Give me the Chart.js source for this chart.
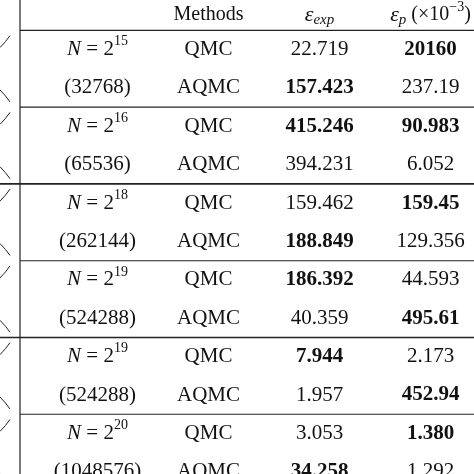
<!DOCTYPE html>
<html><head><meta charset="utf-8">
<script src="https://cdn.jsdelivr.net/npm/chart.js@4.4.0/dist/chart.umd.min.js"></script>
<style>
html,body{margin:0;width:474px;height:474px;overflow:hidden;background:#fff}
#wrap{position:absolute;left:0;top:-8px;width:486px;height:499px}
</style></head><body>
<div id="wrap"><canvas id="c"></canvas></div>
<script>
const columns = ['size', 'method', 'exp', 'p'];
const rows = ['head', 'r1', 'r2', 'r3', 'r4', 'r5', 'r6', 'r7', 'r8', 'r9', 'r10', 'r11', 'r12'];
const exponents = ['15', '16', '18', '19', '19', '20'];
const counts = ['(32768)', '(65536)', '(262144)', '(524288)', '(524288)', '(1048576)'];
const methods = ['QMC', 'AQMC'];
const epsExp = ['22.719', '157.423', '415.246', '394.231', '159.462', '188.849', '186.392', '40.359', '7.944', '1.957', '3.053', '34.258'];
const boldExp = [0, 1, 1, 0, 0, 1, 1, 0, 1, 0, 0, 1];
const epsP = ['20160', '237.19', '90.983', '6.052', '159.45', '129.356', '44.593', '495.61', '2.173', '452.94', '1.380', '1.292'];
const boldP = [1, 0, 1, 0, 1, 0, 0, 1, 0, 1, 1, 0];
const thickAfter = [4, 8];

const serif = '"Liberation Serif", "DejaVu Serif", serif';

// each cell: list of runs [text, style, size, dy]
function cellRuns(col, r) {
  if (r === 0) {
    if (col === 1) return [['Methods', '', 20, 4]];
    if (col === 2) return [['ε', 'italic ', 22, 4], ['exp', 'italic ', 15, 9]];
    if (col === 3) return [['ε', 'italic ', 22, 4], ['p', 'italic ', 15, 9], [' (×10', '', 20, 4], ['−3', '', 14, -4], [')', '', 20, 4]];
    return [];
  }
  const i = r - 1, g = Math.floor(i / 2);
  if (col === 0) return i % 2 === 0
    ? [['N', 'italic ', 21, 0], [' = 2', '', 21, 0], [exponents[g], '', 14, -8]]
    : [[counts[g], '', 21, 0]];
  if (col === 1) return [[methods[i % 2], '', 21, 0]];
  if (col === 2) return [[epsExp[i], boldExp[i] ? 'bold ' : '', 21, 0]];
  return [[epsP[i], boldP[i] ? 'bold ' : '', 21, 0]];
}

const datasets = columns.map((c, ci) => ({
  label: c,
  data: rows.map(r => ({ x: c, y: r })),
  pointRadius: 0,
  showLine: false,
}));

const tablePlugin = {
  id: 'table',
  afterDatasetsDraw(chart) {
    const ctx = chart.ctx;
    const ys = chart.scales.y;
    ctx.save();
    ctx.fillStyle = '#111';
    ctx.textBaseline = 'middle';
    chart.data.datasets.forEach((ds, ci) => {
      chart.getDatasetMeta(ci).data.forEach((pt, r) => {
        const runs = cellRuns(ci, r);
        let w = 0;
        runs.forEach(([t, st, sz]) => { ctx.font = st + sz + 'px ' + serif; w += ctx.measureText(t).width; });
        let x = pt.x - w / 2;
        runs.forEach(([t, st, sz, dy]) => {
          ctx.font = st + sz + 'px ' + serif;
          ctx.fillText(t, x, pt.y + dy);
          x += ctx.measureText(t).width;
        });
      });
    });
    // rules between row groups
    const left = chart.chartArea.left;
    const mid = k => (ys.getPixelForValue(k) + ys.getPixelForValue(k + 1)) / 2;
    ctx.strokeStyle = '#222';
    for (let k = 0; k < rows.length - 1; k += 2) {
      const y = mid(k);
      const thick = thickAfter.includes(k);
      ctx.lineWidth = thick ? 1.6 : 1.1;
      ctx.beginPath();
      ctx.moveTo(thick ? 0 : left - 22, y);
      ctx.lineTo(chart.width, y);
      ctx.stroke();
    }
    ctx.lineWidth = 1.2;
    ctx.beginPath();
    ctx.moveTo(left - 22, 0);
    ctx.lineTo(left - 22, chart.height);
    ctx.stroke();
    // brace fragments at the left edge
    ctx.lineWidth = 1;
    for (let k = 1; k < rows.length; k += 2) {
      [ys.getPixelForValue(k) - 8, ys.getPixelForValue(k + 1) + 8].forEach((y, j) => {
        ctx.beginPath();
        ctx.moveTo(0, y + (j ? -6 : 6));
        ctx.quadraticCurveTo(6, y, 10, y + (j ? 6 : -6));
        ctx.stroke();
      });
    }
    ctx.restore();
  }
};

new Chart(document.getElementById('c'), {
  type: 'scatter',
  data: { datasets },
  options: {
    responsive: true, maintainAspectRatio: false, animation: false,
    layout: { padding: { left: 42 } },
    plugins: { legend: { display: false }, tooltip: { enabled: false } },
    scales: {
      x: { type: 'category', labels: columns, offset: true, display: false },
      y: { type: 'category', labels: rows, offset: true, display: false },
    },
  },
  plugins: [tablePlugin],
});
</script>
</body></html>
